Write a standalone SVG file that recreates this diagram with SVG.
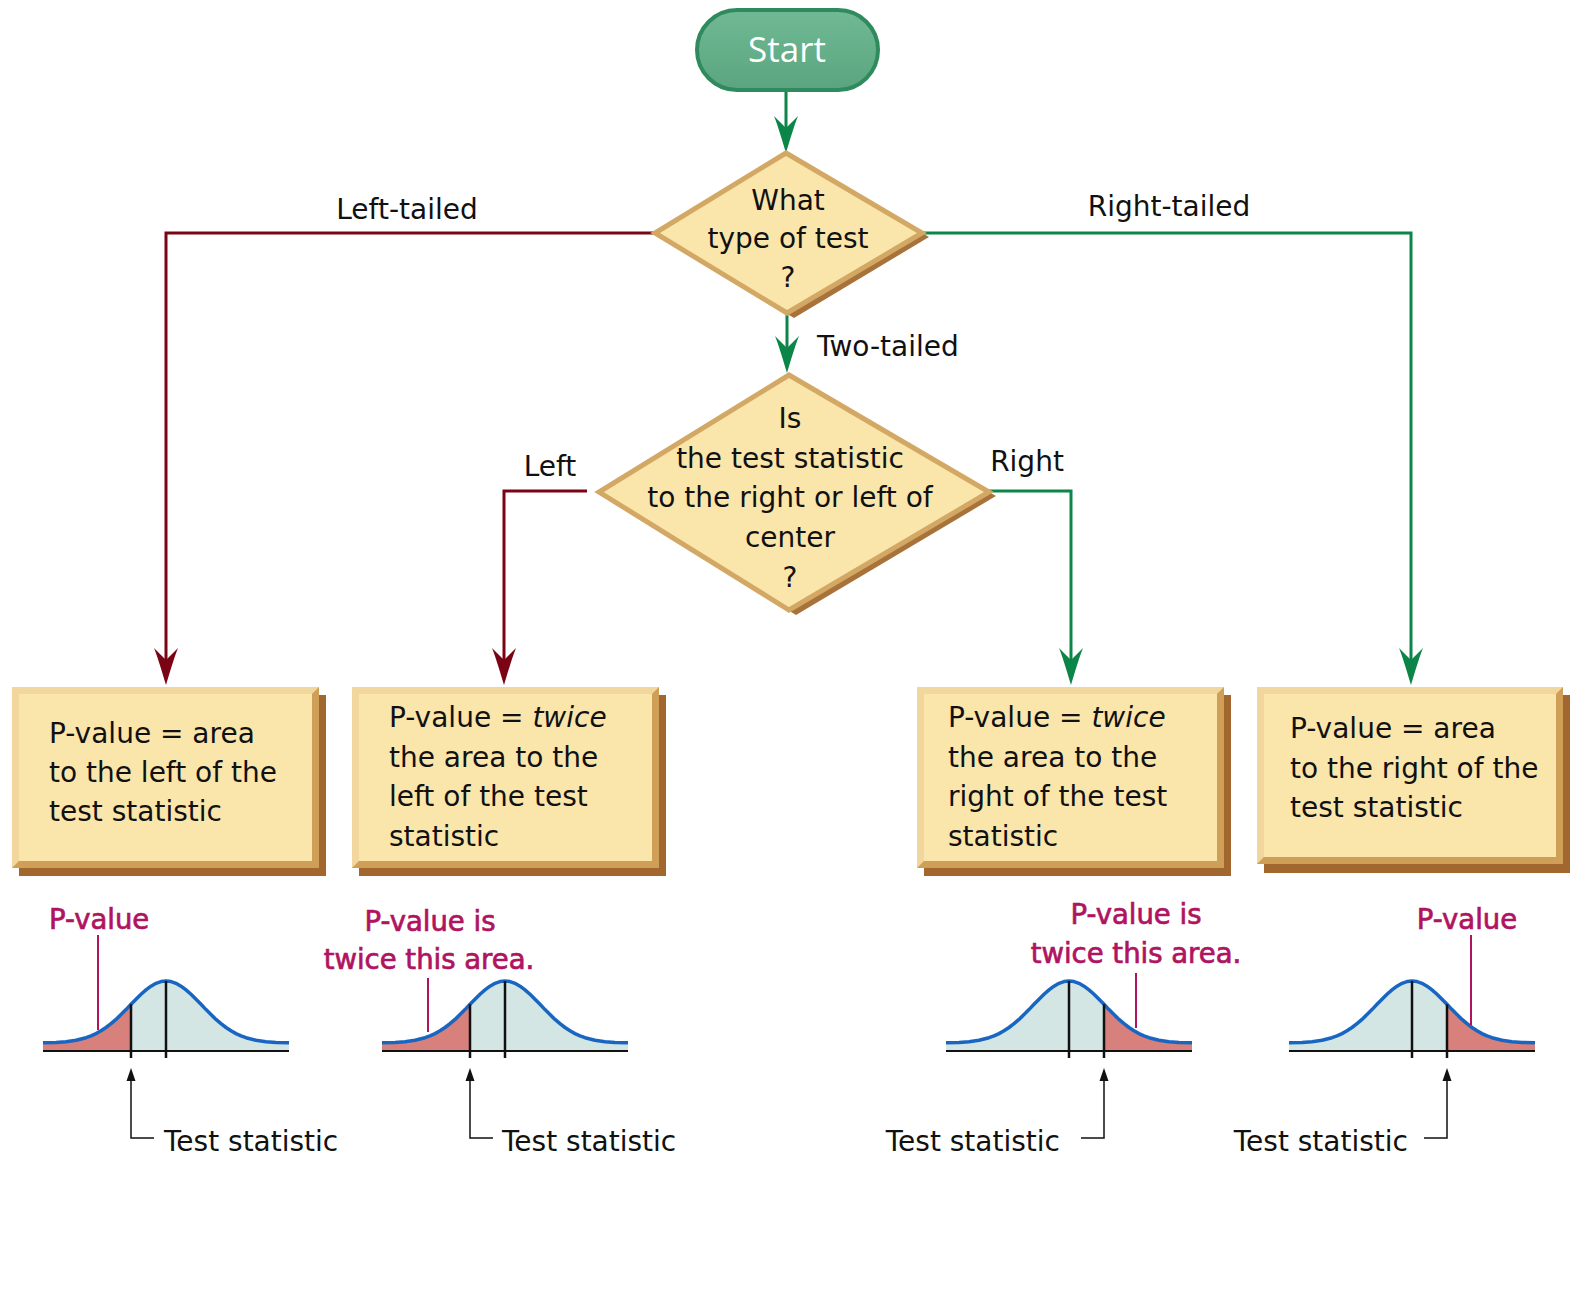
<svg xmlns="http://www.w3.org/2000/svg" xmlns:xlink="http://www.w3.org/1999/xlink" width="1579" height="1296" viewBox="0 0 1579 1296">
<style>
.t{font-family:"DejaVu Sans","Liberation Sans",sans-serif;font-size:28px;fill:#111}
.c{text-anchor:middle}
.e{text-anchor:end}
.m{font-family:"DejaVu Sans","Liberation Sans",sans-serif;font-size:27.5px;fill:#b0135f;stroke:#b0135f;stroke-width:0.7}
.st{font-family:"Open Sans","Noto Sans",sans-serif;font-size:35px;fill:#fff;text-anchor:middle}
.conG{fill:none;stroke:#0b8548;stroke-width:3}
.conR{fill:none;stroke:#7a0414;stroke-width:3}
.lead{fill:none;stroke:#b0135f;stroke-width:2}
.bshadow{fill:#a2672e}
.bedge{fill:#e6c27e}
.blight{fill:#f1d79e}
.bdark{fill:#cf9f58}
.binner{fill:#fae5ab}
.dshadow{fill:#a8733a}
.dmain{fill:#fae5ab;stroke:#d3a864;stroke-width:5;stroke-linejoin:miter}
</style>
<defs>
<linearGradient id="pill" x1="0" y1="0" x2="0" y2="1">
<stop offset="0" stop-color="#70b994"/>
<stop offset="1" stop-color="#5aa57f"/>
</linearGradient>
<marker id="aG" markerUnits="userSpaceOnUse" viewBox="-24 -13 40 26" markerWidth="40" markerHeight="26" refX="0" refY="0" orient="auto">
<path d="M15,0 C5,-3 -12,-8 -22,-12 L-10,0 L-22,12 C-12,8 5,3 15,0 Z" fill="#0b8548"/>
</marker>
<marker id="aR" markerUnits="userSpaceOnUse" viewBox="-24 -13 40 26" markerWidth="40" markerHeight="26" refX="0" refY="0" orient="auto">
<path d="M15,0 C5,-3 -12,-8 -22,-12 L-10,0 L-22,12 C-12,8 5,3 15,0 Z" fill="#7a0414"/>
</marker>
<g id="plot">
<path d="M-35,8 L-35,-38.7 L-30,-43.8 L-25,-48.7 L-20,-53.1 L-15,-56.8 L-10,-59.7 L-5,-61.4 L0,-62 L5,-61.4 L10,-59.7 L15,-56.8 L20,-53.1 L25,-48.7 L30,-43.8 L35,-38.7 L40,-33.4 L45,-28.4 L50,-23.6 L55,-19.3 L60,-15.5 L65,-12.2 L70,-9.4 L75,-7.1 L80,-5.3 L90,-2.7 L100,-1.3 L110,-0.6 L123,-0.2 L123,8 Z" fill="#d3e6e4"/>
<path d="M-123,8 L-123,-0.2 L-110,-0.6 L-100,-1.3 L-90,-2.7 L-80,-5.3 L-75,-7.1 L-70,-9.4 L-65,-12.2 L-60,-15.5 L-55,-19.3 L-50,-23.6 L-45,-28.4 L-40,-33.4 L-35,-38.7 L-35,8 Z" fill="#d8807b"/>
<path d="M-123,-0.2 L-110,-0.6 L-100,-1.3 L-90,-2.7 L-80,-5.3 L-75,-7.1 L-70,-9.4 L-65,-12.2 L-60,-15.5 L-55,-19.3 L-50,-23.6 L-45,-28.4 L-40,-33.4 L-35,-38.7 L-30,-43.8 L-25,-48.7 L-20,-53.1 L-15,-56.8 L-10,-59.7 L-5,-61.4 L0,-62 L5,-61.4 L10,-59.7 L15,-56.8 L20,-53.1 L25,-48.7 L30,-43.8 L35,-38.7 L40,-33.4 L45,-28.4 L50,-23.6 L55,-19.3 L60,-15.5 L65,-12.2 L70,-9.4 L75,-7.1 L80,-5.3 L90,-2.7 L100,-1.3 L110,-0.6 L123,-0.2" fill="none" stroke="#1866c2" stroke-width="3.5" stroke-linejoin="round"/>
<path d="M-123,8 H123" stroke="#111" stroke-width="2"/>
<path d="M0,-62 V15 M-35,-38.7 V15" stroke="#111" stroke-width="2.5"/>
<path d="M-35,37 V95 H-12" fill="none" stroke="#111" stroke-width="1.5"/>
<path d="M-35,25 L-39.5,38 L-30.5,38 Z" fill="#111"/>
</g>
</defs>
<rect width="1579" height="1296" fill="#fff"/>

<g id="connectors">
<path class="conG" d="M786,90 V138" marker-end="url(#aG)"/>
<path class="conR" d="M655,233 H166 V670" marker-end="url(#aR)"/>
<path class="conG" d="M922,233 H1411 V670" marker-end="url(#aG)"/>
<path class="conG" d="M787,313 V358" marker-end="url(#aG)"/>
<path class="conR" d="M587,491 H504 V670" marker-end="url(#aR)"/>
<path class="conG" d="M989,491 H1071 V670" marker-end="url(#aG)"/>
</g>

<g id="edge-labels">
<text class="t c" x="407" y="219">Left-tailed</text>
<text class="t c" x="1169" y="216">Right-tailed</text>
<text class="t" x="817" y="356">Two-tailed</text>
<text class="t c" x="550" y="476">Left</text>
<text class="t c" x="1027" y="471">Right</text>
</g>

<g id="start">
<rect x="697" y="10" width="181" height="80" rx="40" fill="url(#pill)" stroke="#2f8a5d" stroke-width="4"/>
<text class="st" x="787" y="62">Start</text>
</g>

<g id="decision-type">
<polygon class="dshadow" points="793,157 929,237 794,318 661,237"/>
<polygon class="dmain" points="786,153 922,233 787,313 655,233"/>
<text class="t c" x="788" y="210">What</text>
<text class="t c" x="788" y="248">type of test</text>
<text class="t c" x="788" y="287">?</text>
</g>

<g id="decision-side">
<polygon class="dshadow" points="796,379 996,496 796,615 605,496"/>
<polygon class="dmain" points="789,375 989,492 789,610 599,492"/>
<text class="t c" x="790" y="428">Is</text>
<text class="t c" x="790" y="468">the test statistic</text>
<text class="t c" x="790" y="507">to the right or left of</text>
<text class="t c" x="790" y="547">center</text>
<text class="t c" x="790" y="587">?</text>
</g>

<g id="box-left">
<rect class="bshadow" x="19" y="695" width="307" height="181"/>
<rect class="bedge" x="12" y="687" width="307" height="181"/>
<polygon class="blight" points="12,687 319,687 312,694 19,694 19,861 12,868"/>
<polygon class="bdark" points="319,687 319,868 12,868 19,861 312,861 312,694"/>
<rect class="binner" x="19" y="694" width="293" height="167"/>
<text class="t" x="49" y="743">P-value = area</text>
<text class="t" x="49" y="782">to the left of the</text>
<text class="t" x="49" y="821">test statistic</text>
</g>

<g id="box-two-left">
<rect class="bshadow" x="359" y="695" width="307" height="181"/>
<rect class="bedge" x="352" y="687" width="307" height="181"/>
<polygon class="blight" points="352,687 659,687 652,694 359,694 359,861 352,868"/>
<polygon class="bdark" points="659,687 659,868 352,868 359,861 652,861 652,694"/>
<rect class="binner" x="359" y="694" width="293" height="167"/>
<text class="t" x="389" y="727">P-value = <tspan font-style="italic">twice</tspan></text>
<text class="t" x="389" y="767">the area to the</text>
<text class="t" x="389" y="806">left of the test</text>
<text class="t" x="389" y="846">statistic</text>
</g>

<g id="box-two-right">
<rect class="bshadow" x="924" y="695" width="307" height="181"/>
<rect class="bedge" x="917" y="687" width="307" height="181"/>
<polygon class="blight" points="917,687 1224,687 1217,694 924,694 924,861 917,868"/>
<polygon class="bdark" points="1224,687 1224,868 917,868 924,861 1217,861 1217,694"/>
<rect class="binner" x="924" y="694" width="293" height="167"/>
<text class="t" x="948" y="727">P-value = <tspan font-style="italic">twice</tspan></text>
<text class="t" x="948" y="767">the area to the</text>
<text class="t" x="948" y="806">right of the test</text>
<text class="t" x="948" y="846">statistic</text>
</g>

<g id="box-right">
<rect class="bshadow" x="1264" y="695" width="306" height="178"/>
<rect class="bedge" x="1257" y="687" width="306" height="177"/>
<polygon class="blight" points="1257,687 1563,687 1556,694 1264,694 1264,857 1257,864"/>
<polygon class="bdark" points="1563,687 1563,864 1257,864 1264,857 1556,857 1556,694"/>
<rect class="binner" x="1264" y="694" width="292" height="163"/>
<text class="t" x="1290" y="738">P-value = area</text>
<text class="t" x="1290" y="778">to the right of the</text>
<text class="t" x="1290" y="817">test statistic</text>
</g>

<g id="plot-left">
<use xlink:href="#plot" href="#plot" transform="translate(166,1043)"/>
<path class="lead" d="M98,935 V1030"/>
<text class="m" x="49" y="929">P-value</text>
<text class="t" x="164" y="1151">Test statistic</text>
</g>

<g id="plot-two-left">
<use xlink:href="#plot" href="#plot" transform="translate(505,1043)"/>
<path class="lead" d="M428,978 V1032"/>
<text class="m c" x="430" y="931">P-value is</text>
<text class="m c" x="429" y="969">twice this area.</text>
<text class="t" x="502" y="1151">Test statistic</text>
</g>

<g id="plot-two-right">
<use xlink:href="#plot" href="#plot" transform="translate(1069,1043) scale(-1,1)"/>
<path class="lead" d="M1136,973 V1028"/>
<text class="m c" x="1136" y="924">P-value is</text>
<text class="m c" x="1136" y="963">twice this area.</text>
<text class="t e" x="1060" y="1151">Test statistic</text>
</g>

<g id="plot-right">
<use xlink:href="#plot" href="#plot" transform="translate(1412,1043) scale(-1,1)"/>
<path class="lead" d="M1471,935 V1025"/>
<text class="m c" x="1467" y="929">P-value</text>
<text class="t e" x="1408" y="1151">Test statistic</text>
</g>
</svg>
